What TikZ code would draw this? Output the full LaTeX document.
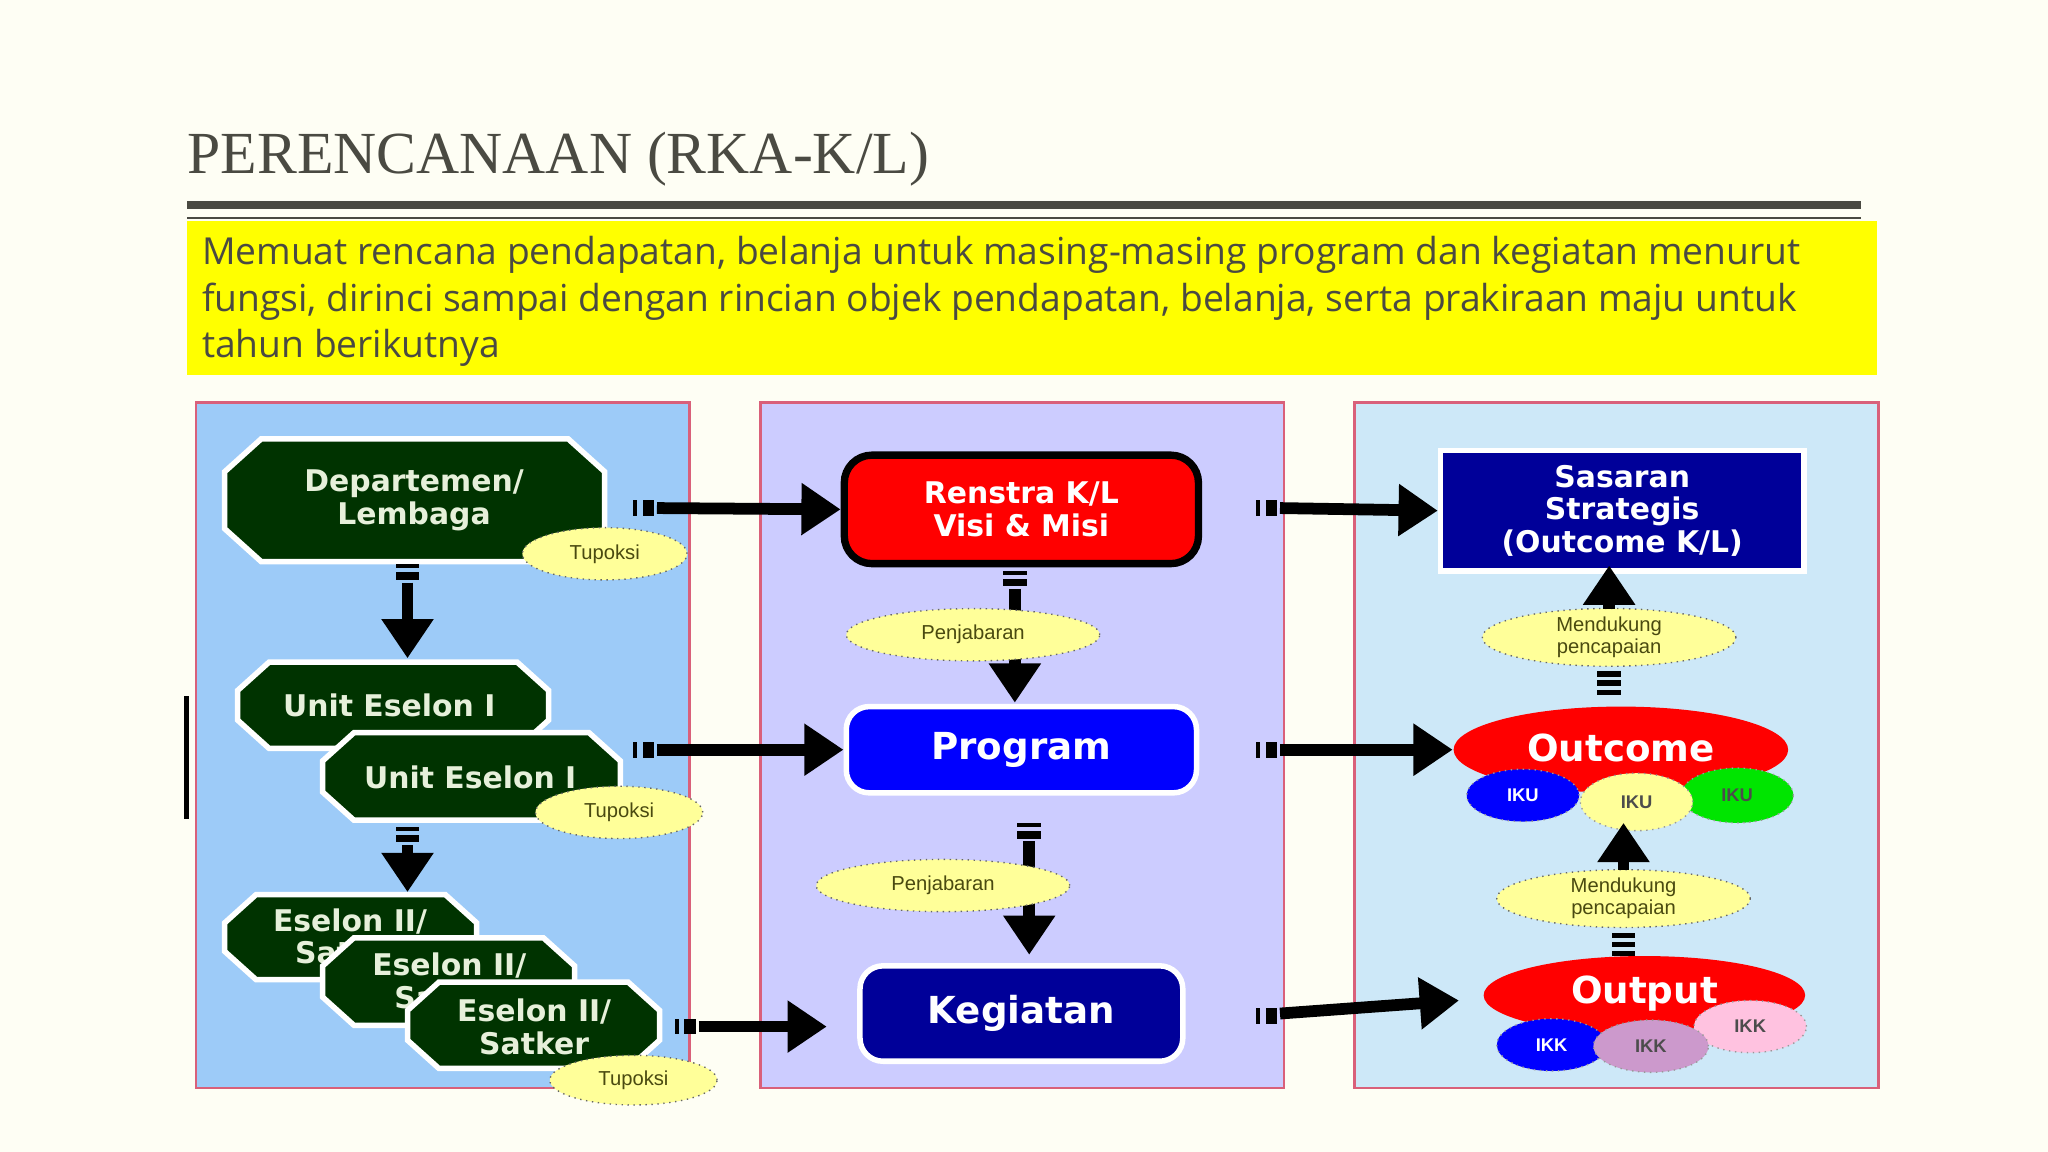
\documentclass[tikz,border=0pt]{standalone}
\usepackage{fontspec}
\setmainfont{Liberation Serif}
\setsansfont{Liberation Sans}
\newfontfamily\bodyfont{Open Sans}
\newfontfamily\boxfont{DejaVu Sans}
\usetikzlibrary{arrows.meta,shapes.geometric}
\definecolor{bg}{HTML}{FEFEF4}
\definecolor{ink}{HTML}{4A4A42}
\definecolor{hl}{HTML}{FFFF00}
\definecolor{pl}{HTML}{9DCBF8}
\definecolor{pm}{HTML}{CCCCFF}
\definecolor{pr}{HTML}{CDE8F8}
\definecolor{pb}{HTML}{D9607A}
\definecolor{dg}{HTML}{003300}
\definecolor{lt}{HTML}{E6F0DA}
\definecolor{cream}{HTML}{FFFF99}
\definecolor{navy}{HTML}{000099}
\definecolor{olive}{HTML}{4A4A10}
\tikzset{
 panel/.style={draw=pb,line width=0.6pt},
 lbl/.style={font=\boxfont\bfseries\fontsize{6.5}{7.1}\selectfont,text=lt,align=center,inner sep=0},
 bigl/.style={font=\boxfont\bfseries\fontsize{8.1}{9}\selectfont},
 bub/.style={ellipse,fill=cream,draw=black!60,densely dotted,line width=0.3pt,inner sep=0,font=\sffamily\fontsize{4.4}{4.8}\selectfont,text=olive,align=center},
 circ/.style={ellipse,draw=black!40,densely dotted,line width=0.3pt,inner sep=0,font=\sffamily\bfseries\fontsize{4}{4.5}\selectfont},
 big/.style={line width=0.09cm,-{Triangle[length=0.3cm,width=0.38cm]}},
}
\newcommand{\octo}[5]{\fill[dg,draw=white,line width=1.2pt] (#1+#5,#2)--(#3-#5,#2)--(#3,#2+#5*0.9)--(#3,#4-#5*0.9)--(#3-#5,#4)--(#1+#5,#4)--(#1,#4-#5*0.9)--(#1,#2+#5*0.9)--cycle;}
\newcommand{\hstub}[2]{\fill (#1,#2-6) rectangle ++(3,12); \fill (#1+7,#2-6) rectangle ++(9,12);}
\newcommand{\vstub}[2]{\fill (#1-9,#2) rectangle ++(18,3); \fill (#1-9,#2+6) rectangle ++(18,6);}
\begin{document}
\begin{tikzpicture}[x=0.01cm,y=-0.01cm]
\fill[bg] (0,0) rectangle (1568,882);
\useasboundingbox (0,0) rectangle (1568,882);
\node[anchor=base west,inner sep=0,text=ink,font=\fontsize{13}{15}\selectfont] (title) at (143,133) {PERENCANAAN (RKA-K/L)};
\fill[ink] (143,154) rectangle (1425,160);
\fill[ink] (143,166) rectangle (1425,167.5);
\fill[hl] (143,169) rectangle (1437,287);
\node[anchor=north west,inner sep=0,text=ink,align=left,font=\bodyfont\fontsize{8.1}{10.2}\selectfont] (desc) at (154,180) {Memuat rencana pendapatan, belanja untuk masing-masing program dan kegiatan menurut\\fungsi, dirinci sampai dengan rincian objek pendapatan, belanja, serta prakiraan maju untuk\\tahun berikutnya};
\draw[black,line width=1pt] (143,533) -- (143,627);
% panels
\filldraw[panel,fill=pl] (150,308) rectangle (528,833);
\filldraw[panel,fill=pm] (582,308) rectangle (983,833);
\filldraw[panel,fill=pr] (1037,308) rectangle (1438,833);
% left column
\octo{172}{336}{463}{430}{28}
\node[lbl] (dep) at (317,383) {Departemen/\\Lembaga};
\node[bub,minimum width=1.26cm,minimum height=0.4cm] (t1) at (463,424) {Tupoksi};
\octo{182}{507}{420}{573}{24}
\node[lbl] (u1) at (298,540) {Unit Eselon I};
\octo{247}{561}{475}{628}{24}
\node[lbl] (u2) at (360,595) {Unit Eselon I};
\node[bub,minimum width=1.28cm,minimum height=0.4cm] (t2) at (474,622) {Tupoksi};
\octo{172}{685}{365}{750}{24}
\node[lbl] (e1) at (268,717) {Eselon II/\\Satker};
\octo{247}{718}{440}{785}{24}
\node[lbl] (e2) at (344,751) {Eselon II/\\Satker};
\octo{312}{752}{505}{818}{24}
\node[lbl] (e3) at (409,786) {Eselon II/\\Satker};
\node[bub,minimum width=1.28cm,minimum height=0.38cm] (t3) at (485,827) {Tupoksi};
\vstub{312}{432}
\coordinate (d1a) at (312,446); \coordinate (d1b) at (312,504);
\draw[big] (d1a) -- (d1b);
\vstub{312}{633}
\coordinate (d2a) at (312,647); \coordinate (d2b) at (312,683);
\draw[big] (d2a) -- (d2b);
% middle column
\node[draw=black,line width=1.6pt,fill=red,rounded corners=6,minimum width=2.71cm,minimum height=0.83cm,lbl,text=white] (ren) at (782,390) {Renstra K/L\\Visi \& Misi};
\node[draw=white,line width=1.2pt,fill=blue,rounded corners=5,minimum width=2.68cm,minimum height=0.66cm,lbl,bigl,text=white] (prog) at (782,574) {Program};
\node[draw=white,line width=1.2pt,fill=navy,rounded corners=5,minimum width=2.47cm,minimum height=0.73cm,lbl,bigl,text=white] (keg) at (782,776) {Kegiatan};
\vstub{777}{437}
\coordinate (pa) at (777,451); \coordinate (pb) at (777,538);
\draw[big] (pa) -- (pb);
\vstub{788}{630}
\coordinate (pc) at (788,644); \coordinate (pd) at (788,731);
\draw[big] (pc) -- (pd);
\node[bub,minimum width=1.94cm,minimum height=0.4cm] (p1) at (745,486) {Penjabaran};
\node[bub,minimum width=1.94cm,minimum height=0.4cm] (p2) at (722,678) {Penjabaran};
% horizontal arrows
\hstub{485}{389}\coordinate (h1) at (503,389);
\draw[big] (h1) -- (ren.west);
\hstub{485}{574}\coordinate (h2) at (503,574);
\draw[big] (h2) -- (prog.west);
\hstub{517}{786}\coordinate (h3) at (535,786);\coordinate (h3e) at (633,786);
\draw[big] (h3) -- (h3e);
% right column
\node[draw=white,line width=1.2pt,fill=navy,minimum width=2.78cm,minimum height=0.92cm,lbl,text=white] (sas) at (1242,391) {Sasaran\\Strategis\\(Outcome K/L)};
\node[ellipse,fill=red,minimum width=2.56cm,minimum height=0.66cm,inner sep=0] (outc) at (1241,574) {};
\node[lbl,bigl,text=white] (outct) at (1241,573) {Outcome};
\node[circ,fill=blue,text=white,minimum width=0.86cm,minimum height=0.4cm] (iku1) at (1166,609) {IKU};
\node[circ,fill=green!90!black,text=black!70,minimum width=0.86cm,minimum height=0.42cm] (iku3) at (1330,609) {IKU};
\node[circ,fill=cream,text=black!70,minimum width=0.86cm,minimum height=0.44cm] (iku2) at (1253,614) {IKU};
\node[ellipse,fill=red,minimum width=2.46cm,minimum height=0.6cm,inner sep=0] (outp) at (1259,762) {};
\node[lbl,bigl,text=white] (outpt) at (1259,761) {Output};
\node[circ,fill=pink!80!magenta!60,text=black!70,minimum width=0.86cm,minimum height=0.4cm] (ikk3) at (1340,786) {IKK};
\node[circ,fill=blue,text=white,minimum width=0.84cm,minimum height=0.4cm] (ikk1) at (1188,800) {IKK};
\node[circ,fill=violet!40,text=black!70,minimum width=0.88cm,minimum height=0.4cm] (ikk2) at (1264,801) {IKK};
\node[bub,minimum width=1.94cm,minimum height=0.44cm] (m1) at (1232,488) {Mendukung\\pencapaian};
\node[bub,minimum width=1.94cm,minimum height=0.44cm] (m2) at (1243,688) {Mendukung\\pencapaian};
\fill (1223,514) rectangle ++(18,4); \fill (1223,521) rectangle ++(18,4); \fill (1223,528) rectangle ++(18,4);
\coordinate (u1a) at (1232,466); \coordinate (u1b) at (1232,433); \draw[big] (u1a) -- (u1b);
\fill (1234,714) rectangle ++(18,4); \fill (1234,721) rectangle ++(18,4); \fill (1234,728) rectangle ++(18,4);
\coordinate (u2a) at (1243,666); \coordinate (u2b) at (1243,630); \draw[big] (u2a) -- (u2b);
\hstub{962}{389}\coordinate (r1) at (980,389);
\draw[big] (r1) -- (sas.west);
\hstub{962}{574}\coordinate (r2) at (980,574);
\draw[big] (r2) -- (outc.west);
\hstub{962}{778}\coordinate (r3) at (980,776);\coordinate (r3e) at (1117,766);
\draw[big] (r3) -- (r3e);
\end{tikzpicture}
\end{document}
